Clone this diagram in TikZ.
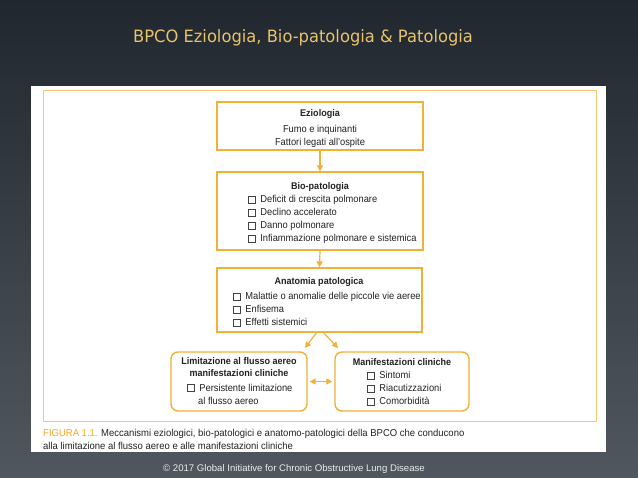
\documentclass[tikz,border=0pt]{standalone}
\usepackage{fontspec}
\usetikzlibrary{arrows.meta,calc}
\setmainfont{Liberation Sans}
\newfontfamily\bxf[FakeStretch=0.93]{Liberation Sans}
\newfontfamily\capf[FakeStretch=0.95]{Liberation Sans}
\newfontfamily\titf[FakeStretch=0.96]{DejaVu Sans}
\definecolor{bgtop}{HTML}{20272E}
\definecolor{bgbot}{HTML}{50575E}
\definecolor{titc}{HTML}{E8C26C}
\definecolor{boxc}{HTML}{F2B136}
\definecolor{capo}{HTML}{F5A623}
\definecolor{txt}{HTML}{222222}
\newcommand\cbx{{\setlength\fboxsep{0pt}\setlength\fboxrule{0.6pt}\color{txt!85}\fbox{\vrule width 0pt height 6.5pt\hspace{6.5pt}}}\hspace{4.5pt}}
\tikzset{
  flowbox/.style={draw=boxc,line width=1.4pt,inner sep=0pt,fill=white},
  roundbox/.style={flowbox,rounded corners=7pt},
  ttl/.style={font=\bxf\fontsize{9.7}{12}\selectfont\bfseries,text=txt,inner sep=0pt},
  body/.style={font=\bxf\fontsize{10}{13}\selectfont,text=txt,inner sep=0pt},
  flowarrow/.style={draw=boxc,line width=1.2pt,-{Triangle[length=6pt,width=6pt]}},
}
\begin{document}
\begin{tikzpicture}[x=1pt,y=-1pt]
\useasboundingbox (0,0) rectangle (638,478);
\fill[top color=bgtop,bottom color=bgbot] (0,0) rectangle (638,478);
\node[font=\titf\fontsize{17}{20}\selectfont,text=titc,inner sep=0pt] (title) at (303,38) {BPCO Eziologia, Bio-patologia \& Patologia};
\fill[white] (31,86) rectangle (606,452);
\draw[boxc!70,line width=1pt] (43,91) rectangle (596,422);
% boxes
\node[flowbox,minimum width=206pt,minimum height=48pt] (ezio) at (320,126) {};
\node[flowbox,minimum width=206pt,minimum height=78pt] (bio) at (320,211) {};
\node[flowbox,minimum width=205pt,minimum height=64pt] (anat) at (319.5,300) {};
\node[roundbox,minimum width=136pt,minimum height=59pt] (lim) at (239,381.5) {};
\node[roundbox,minimum width=134pt,minimum height=59pt] (man) at (402,381.5) {};
% texts
\node[ttl] (eziot) at (320,114) {Eziologia};
\node[body,align=center,anchor=north] (eziob) at (320,125) {Fumo e inquinanti\\Fattori legati all’ospite};
\node[ttl] (biot) at (320,187) {Bio-patologia};
\node[body,align=left,anchor=north west] (biob) at (248,195.5) {\cbx Deficit di crescita polmonare\\\cbx Declino accelerato\\\cbx Danno polmonare\\\cbx Infiammazione polmonare e sistemica};
\node[ttl] (anatt) at (319,282) {Anatomia patologica};
\node[body,align=left,anchor=north west] (anatb) at (233,292.5) {\cbx Malattie o anomalie delle piccole vie aeree\\\cbx Enfisema\\\cbx Effetti sistemici};
\node[ttl,align=center,anchor=north] (limt) at (239,357.5) {Limitazione al flusso aereo\\manifestazioni cliniche};
\node[body,align=left,anchor=north west] (limb) at (187,384) {\cbx Persistente limitazione\\\hspace{11pt}al flusso aereo};
\node[ttl] (mant) at (402,362.5) {Manifestazioni cliniche};
\node[body,align=left,anchor=north west] (manb) at (367,371.5) {\cbx Sintomi\\\cbx Riacutizzazioni\\\cbx Comorbidità};
% connectors
\draw[flowarrow] (ezio.south) -- (bio.north);
\draw[flowarrow] (bio.south) -- (anat.north);
\coordinate (a1) at (317,332);
\coordinate (a2) at (323,332);
\coordinate (e1) at (305,348);
\coordinate (e2) at (338,348);
\draw[flowarrow] (a1) -- (e1);
\draw[flowarrow] (a2) -- (e2);
\draw[draw=boxc,line width=1.2pt,{Triangle[length=6pt,width=6pt]}-{Triangle[length=6pt,width=6pt]},shorten <=2pt,shorten >=2pt] (lim.east) -- (man.west);
% caption
\node[font=\capf\fontsize{10}{13}\selectfont,text=txt,align=left,anchor=north west,inner sep=0pt] (cap) at (43,429) {\textcolor{capo}{FIGURA 1.1.} Meccanismi eziologici, bio-patologici e anatomo-patologici della BPCO che conducono\\alla limitazione al flusso aereo e alle manifestazioni cliniche};
\node[font=\fontsize{9.6}{11}\selectfont,text=white!85!gray,inner sep=0pt] (foot) at (294,469) {© 2017 Global Initiative for Chronic Obstructive Lung Disease};
\end{tikzpicture}
\end{document}
